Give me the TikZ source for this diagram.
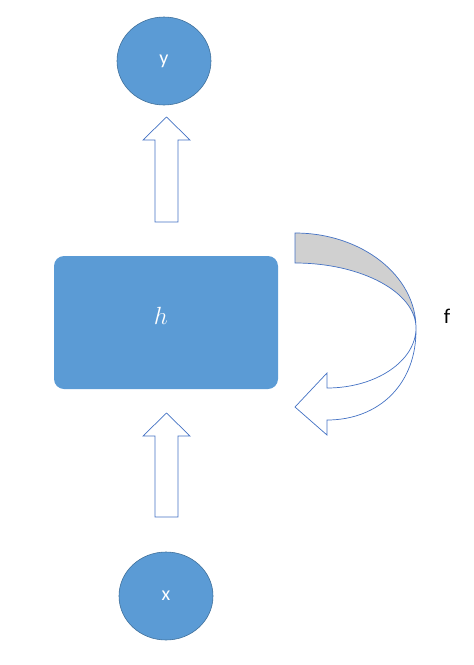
\documentclass[tikz,border=0pt]{standalone}
\usepackage{fontspec}
\setsansfont{Carlito}
\usetikzlibrary{shapes.geometric}
\definecolor{office}{HTML}{5B9BD5}
\definecolor{officeline}{HTML}{41719C}
\definecolor{arrline}{HTML}{4472C4}
\definecolor{band}{HTML}{D0D0D0}
\begin{document}
\begin{tikzpicture}[x=1pt,y=-1pt,
  circ/.style={ellipse, draw=officeline, line width=0.6pt, fill=office, minimum width=94pt, minimum height=88pt, inner sep=0pt, text=white, font=\sffamily\fontsize{20}{24}\selectfont},
  blockarrow/.style={draw=arrline, line width=0.7pt, fill=white, line join=miter},
  hbox/.style={rectangle, rounded corners=10pt, fill=office, minimum width=224pt, minimum height=133pt, inner sep=0pt},
  hlabel/.style={text=white, inner sep=0pt, font=\fontsize{27}{30}\selectfont}
]
\useasboundingbox (0,0) rectangle (474,665);
\node[circ] (y) at (164,61) {y};
\node[circ] (x) at (166,596) {x};
\node[hbox] (h) at (166,322.5) {};
\node[hlabel] (hl) at (161,316) {$h$};
% up arrow between h and y
\draw[blockarrow] (155,222) -- (155,140) -- (143,140) -- (166.5,117) -- (190,140) -- (178,140) -- (178,222) -- cycle;
% up arrow between x and h
\draw[blockarrow] (155,517) -- (155,436) -- (143,436) -- (166.5,413) -- (190,436) -- (178,436) -- (178,517) -- cycle;
% curved arrow: lower white part
\coordinate (m) at (416,328);
\draw[blockarrow] (m) .. controls (416,361) and (376,388) .. (327,388)
  -- (327,373) -- (295,407) -- (327,435) -- (327,420)
  .. controls (379,420) and (417,384) .. (m) -- cycle;
% curved arrow: upper shaded band
\draw[draw=arrline, line width=0.7pt, fill=band, line join=miter]
  (295,233) -- (295,263) .. controls (361,263) and (416,292) .. (m)
  .. controls (416,276) and (362,233) .. (295,233) -- cycle;
\node[font=\sffamily\fontsize{21}{24}\selectfont] (f) at (447,316) {f};
\end{tikzpicture}
\end{document}
